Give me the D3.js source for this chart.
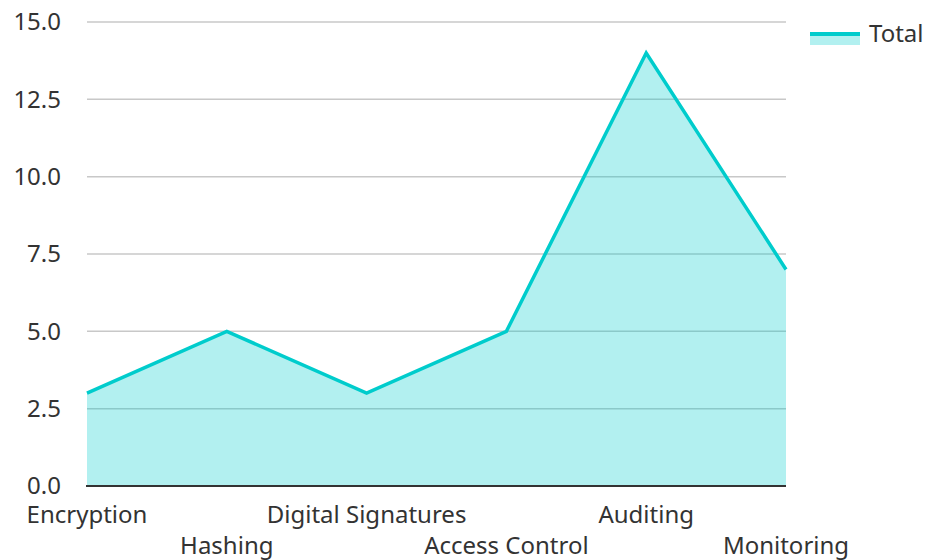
<!DOCTYPE html>
<html>
<head>
<meta charset="utf-8">
<script src="https://cdn.jsdelivr.net/npm/d3@7"></script>
<style>
  body { margin: 0; background: #fff; }
  svg { font-family: "Noto Sans", "Open Sans", sans-serif; }
</style>
</head>
<body>
<svg id="chart" width="925" height="560"></svg>
<script>
const categories = ['Encryption', 'Hashing', 'Digital Signatures', 'Access Control', 'Auditing', 'Monitoring'];
const totals = [3, 5, 3, 5, 14, 7];
const yTicks = [0, 2.5, 5, 7.5, 10, 12.5, 15];
const seriesName = 'Total';

const margin = {left: 87, right: 139, top: 22, bottom: 74};
const width = 925, height = 560;

const svg = d3.select('#chart');

const x = d3.scalePoint()
  .domain(categories)
  .range([margin.left, width - margin.right]);

const y = d3.scaleLinear()
  .domain([0, 15])
  .range([height - margin.bottom, margin.top]);

const data = categories.map((c, i) => ({cat: c, value: totals[i]}));

// grid
svg.append('g')
  .selectAll('line')
  .data(yTicks.filter(d => d > 0))
  .enter().append('line')
    .attr('x1', margin.left)
    .attr('x2', width - margin.right)
    .attr('y1', d => y(d))
    .attr('y2', d => y(d))
    .attr('stroke', '#c8c8c8')
    .attr('stroke-width', 1.5);

// y labels
svg.append('g')
  .selectAll('text')
  .data(yTicks)
  .enter().append('text')
    .attr('x', 61)
    .attr('y', d => y(d))
    .attr('dy', '0.35em')
    .attr('text-anchor', 'end')
    .attr('fill', '#333')
    .style('font-size', '24px')
    .text(d => d.toFixed(1));

const area = d3.area()
  .x(d => x(d.cat))
  .y0(y(0))
  .y1(d => y(d.value));

const line = d3.line()
  .x(d => x(d.cat))
  .y(d => y(d.value));

svg.append('path')
  .datum(data)
  .attr('d', area)
  .attr('fill', 'rgba(0,204,204,0.3)');

svg.append('path')
  .datum(data)
  .attr('d', line)
  .attr('fill', 'none')
  .attr('stroke', '#00cccc')
  .attr('stroke-width', 3.5);

// x axis line
svg.append('line')
  .attr('x1', margin.left - 1)
  .attr('x2', width - margin.right)
  .attr('y1', y(0))
  .attr('y2', y(0))
  .attr('stroke', '#333')
  .attr('stroke-width', 2);

// x labels, staggered
svg.append('g')
  .selectAll('text')
  .data(categories)
  .enter().append('text')
    .attr('x', d => x(d))
    .attr('y', (d, i) => i % 2 === 0 ? 523 : 554)
    .attr('text-anchor', 'middle')
    .attr('fill', '#333')
    .style('font-size', '24px')
    .text(d => d);

// legend
const lg = svg.append('g').attr('transform', 'translate(810,34)');
lg.append('rect')
  .attr('x', 0).attr('y', 0).attr('width', 50).attr('height', 11)
  .attr('fill', 'rgba(0,204,204,0.3)');
lg.append('line')
  .attr('x1', 0).attr('x2', 50).attr('y1', 0).attr('y2', 0)
  .attr('stroke', '#00cccc').attr('stroke-width', 4);
lg.append('text')
  .attr('x', 59).attr('y', 0).attr('dy', '0.35em')
  .attr('fill', '#333')
  .style('font-size', '24px')
  .text(seriesName);
</script>
</body>
</html>
